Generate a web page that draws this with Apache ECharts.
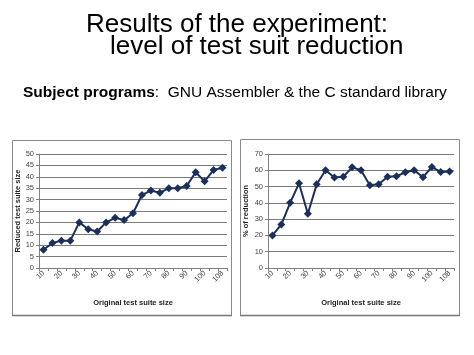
<!DOCTYPE html>
<html><head><meta charset="utf-8">
<script src="https://cdn.jsdelivr.net/npm/echarts@6/dist/echarts.min.js"></script>
<style>html,body{margin:0;padding:0;background:#fff}#c{width:474px;height:355px}</style>
</head><body><div id="c"></div>
<script>
const categories = ['10','15','20','25','30','35','40','45','50','55','60','65','70','75','80','85','90','95','100','105','108'];
const reducedSize = [8,11,12,12,20,17,16,20,22,21,24,32,34,33,35,35,36,42,38,43,44];
const reductionPct = [20,26.7,40,52,33.3,51.4,60,55.6,56,61.8,60,50.8,51.4,56,56.3,58.8,60,55.8,62,59,59.3];
const leftYTicks = {min:0,max:50,interval:5};
const rightYTicks = {min:0,max:70,interval:10};

const narrow = '"Liberation Sans Narrow","Arial Narrow","Liberation Sans",Arial,sans-serif';
const navy = '#1b2f5c';
function xAxis(gi){
  return {type:'category',gridIndex:gi,data:categories,boundaryGap:true,
    name:'Original test suite size',nameLocation:'middle',nameGap:31,
    nameTextStyle:{fontFamily:narrow,fontWeight:'bold',fontSize:7.5,color:'#222'},
    axisLine:{lineStyle:{color:'#808080',width:1}},
    axisTick:{show:true,interval:0,length:3,lineStyle:{color:'#808080'}},
    axisLabel:{interval:1,rotate:45,fontFamily:narrow,fontSize:7.5,color:'#444',margin:4},
    splitLine:{show:false}};
}
function yAxis(gi,t,name,gap){
  return {type:'value',gridIndex:gi,min:t.min,max:t.max,interval:t.interval,
    name:name,nameLocation:'middle',nameGap:gap,nameRotate:90,
    nameTextStyle:{fontFamily:narrow,fontWeight:'bold',fontSize:7.5,color:'#222'},
    axisLine:{show:true,lineStyle:{color:'#808080'}},
    axisTick:{show:true,length:3,lineStyle:{color:'#808080'}},
    axisLabel:{fontFamily:narrow,fontSize:7.5,color:'#444',margin:5},
    splitLine:{show:true,lineStyle:{color:'#7a7a7a',width:1}}};
}
const chart = echarts.init(document.getElementById('c'),null,{renderer:'canvas'});
chart.setOption({
  animation:false,
  backgroundColor:'#fff',
  graphic:[
    {type:'text',left:86,top:12,style:{text:'Results of the experiment:',fontFamily:'"Liberation Sans",Arial,sans-serif',fontSize:26,fill:'#000'}},
    {type:'text',left:110,top:34,style:{text:'level of test suit reduction',fontFamily:'"Liberation Sans",Arial,sans-serif',fontSize:26,fill:'#000'}},
    {type:'text',left:23,top:85,style:{
      text:'{b|Subject programs}:  GNU Assembler & the C standard library',
      fontFamily:'"Liberation Sans",Arial,sans-serif',fontSize:15.5,fill:'#000',
      rich:{b:{fontWeight:'bold',fontSize:15.5,fontFamily:'"Liberation Sans",Arial,sans-serif'}}}},
    {type:'rect',shape:{x:12.5,y:140.5,width:219,height:175},style:{fill:'none',stroke:'#8a8a8a',lineWidth:1}},
    {type:'line',shape:{x1:12,y1:315.5,x2:232,y2:315.5},style:{stroke:'#777',lineWidth:1.5}},
    {type:'rect',shape:{x:240.5,y:139.5,width:219,height:176},style:{fill:'none',stroke:'#8a8a8a',lineWidth:1}},
    {type:'line',shape:{x1:240,y1:315.5,x2:460,y2:315.5},style:{stroke:'#777',lineWidth:1.5}}
  ],
  grid:[
    {left:39,right:247,top:154,bottom:87},
    {left:268,right:20,top:154,bottom:87}
  ],
  xAxis:[xAxis(0),xAxis(1)],
  yAxis:[yAxis(0,leftYTicks,'Reduced test suite size',17),yAxis(1,rightYTicks,'% of reduction',18)],
  series:[
    {type:'line',xAxisIndex:0,yAxisIndex:0,data:reducedSize,symbol:'diamond',symbolSize:8,showAllSymbol:true,
      lineStyle:{color:navy,width:2},itemStyle:{color:navy}},
    {type:'line',xAxisIndex:1,yAxisIndex:1,data:reductionPct,symbol:'diamond',symbolSize:8,showAllSymbol:true,
      lineStyle:{color:navy,width:2},itemStyle:{color:navy}}
  ]
});
</script></body></html>
